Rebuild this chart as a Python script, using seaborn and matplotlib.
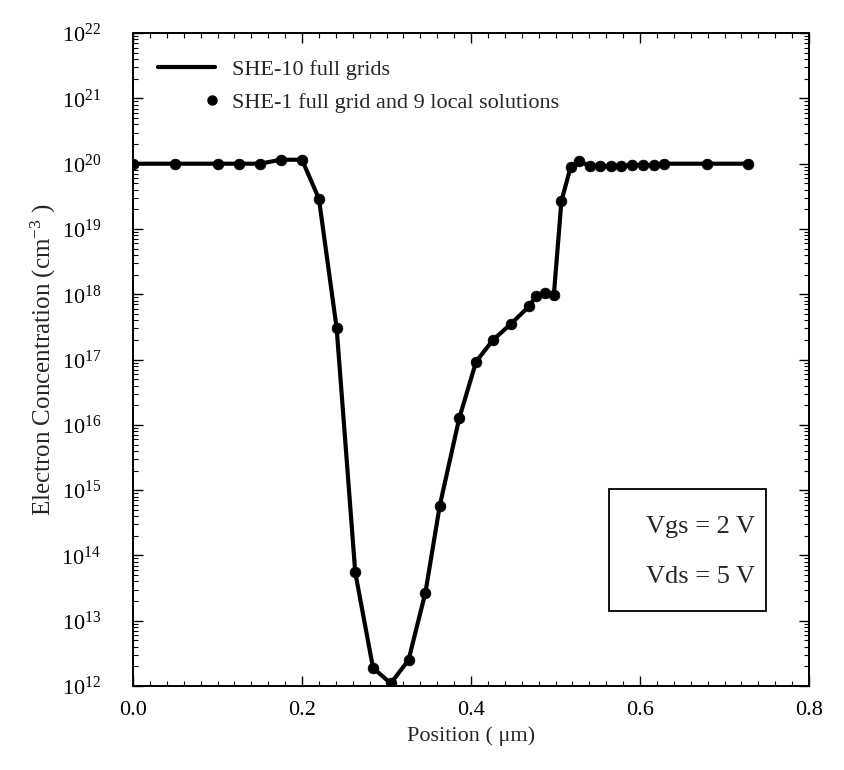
import numpy as np
import pandas as pd
import matplotlib
matplotlib.use("Agg")
import matplotlib.pyplot as plt
import matplotlib.ticker as mticker
from matplotlib.lines import Line2D
from matplotlib.patches import Rectangle
from matplotlib.legend_handler import HandlerLine2DCompound
import seaborn as sns

# ---- data ----
position_um = [0.0, 0.05, 0.10, 0.125, 0.15, 0.175, 0.20, 0.22, 0.241, 0.263,
               0.284, 0.305, 0.326, 0.346, 0.363, 0.386, 0.406, 0.426, 0.447,
               0.469, 0.477, 0.488, 0.498, 0.507, 0.518, 0.528, 0.541, 0.553,
               0.566, 0.578, 0.591, 0.604, 0.617, 0.628, 0.679, 0.728]
electron_conc = [1.0e20, 1.0e20, 1.0e20, 1.0e20, 1.0e20, 1.15e20, 1.15e20,
                 2.9e19, 3.0e17, 5.5e13, 1.9e12, 1.1e12, 2.5e12, 2.7e13,
                 5.8e14, 1.26e16, 9.3e16, 2.0e17, 3.5e17, 6.6e17, 9.5e17,
                 1.05e18, 9.8e17, 2.7e19, 9.0e19, 1.1e20, 9.1e19, 9.1e19,
                 9.3e19, 9.3e19, 9.5e19, 9.5e19, 9.5e19, 1.0e20, 1.0e20, 1.0e20]
line_label = "SHE-10 full grids"
dot_label = "SHE-1 full grid and 9 local solutions"
x_ticks = [0.0, 0.2, 0.4, 0.6, 0.8]
x_tick_labels = ["0.0", "0.2", "0.4", "0.6", "0.8"]
y_exponents = list(range(12, 23))
annotation_lines = ["Vgs = 2 V", "Vds = 5 V"]

df = pd.DataFrame({"pos": position_um, "n": electron_conc})

sns.set_theme(style="ticks")
plt.rcParams["font.family"] = ["Liberation Serif", "DejaVu Serif"]
plt.rcParams["mathtext.fontset"] = "custom"
plt.rcParams["mathtext.rm"] = "Liberation Serif"
plt.rcParams["mathtext.it"] = "Liberation Serif:italic"
plt.rcParams["mathtext.bf"] = "Liberation Serif:bold"

fig = plt.figure(figsize=(8.44, 7.70), dpi=100)
ax = fig.add_axes([0.1576, 0.109, 0.801, 0.848])

sns.lineplot(data=df, x="pos", y="n", ax=ax, color="black", linewidth=3.0,
             sort=False, estimator=None)
sns.scatterplot(data=df, x="pos", y="n", ax=ax, color="black", s=60,
                edgecolor="black", linewidth=0.5, zorder=3)

ax.set_yscale("log")
ax.set_xlim(0.0, 0.8)
ax.set_ylim(1e12, 1e22)

ax.set_xticks(x_ticks)
ax.set_xticklabels(x_tick_labels)
ax.xaxis.set_minor_locator(mticker.MultipleLocator(0.02))
ax.set_yticks([10.0 ** e for e in y_exponents])
ax.set_yticklabels([r"$10^{%d}$" % e for e in y_exponents])
ax.yaxis.set_minor_locator(mticker.LogLocator(base=10, subs=np.arange(2, 10), numticks=100))
ax.yaxis.set_minor_formatter(mticker.NullFormatter())

ax.tick_params(which="both", direction="in", top=True, right=True,
               colors="black", labelsize=16)
ax.tick_params(which="major", length=7, width=1.0)
ax.tick_params(which="minor", length=3.5, width=0.8)
ax.tick_params(axis="x", which="major", pad=11)
ax.tick_params(axis="y", which="major", pad=23)
for s in ax.spines.values():
    s.set_color("black")
    s.set_linewidth(1.4)

ax.set_xlabel("Position ( \u03bcm)", fontsize=16)
ax.xaxis.set_label_coords(0.5, -0.062)
ax.set_ylabel(r"Electron Concentration (cm$^{-3}$ )", fontsize=18)
ax.yaxis.set_label_coords(-0.111, 0.5)


class RightDotHandler(HandlerLine2DCompound):
    def get_xdata(self, legend, xdescent, ydescent, width, height, fontsize):
        xdata, _ = super().get_xdata(legend, xdescent, ydescent, width, height, fontsize)
        return xdata, np.array([-xdescent + width - 2.0])


line_handle = Line2D([0], [0], color="black", linewidth=3.0)
dot_handle = Line2D([0], [0], color="black", linestyle="none", marker="o", markersize=6.5)
ax.legend([line_handle, dot_handle], [line_label, dot_label], loc="upper left",
          frameon=False, fontsize=16, handlelength=2.55, handletextpad=0.75,
          labelspacing=0.55, borderaxespad=0.5, bbox_to_anchor=(0.008, 0.99),
          handler_map={dot_handle: RightDotHandler(numpoints=1)})

ax.add_patch(Rectangle((0.704, 0.115), 0.232, 0.187, transform=ax.transAxes,
                       fill=False, edgecolor="black", linewidth=1.3))
ax.text(0.920, 0.243, annotation_lines[0], transform=ax.transAxes, ha="right",
        va="center", fontsize=19)
ax.text(0.920, 0.167, annotation_lines[1], transform=ax.transAxes, ha="right",
        va="center", fontsize=19)

fig.savefig("out.png", dpi=100)
